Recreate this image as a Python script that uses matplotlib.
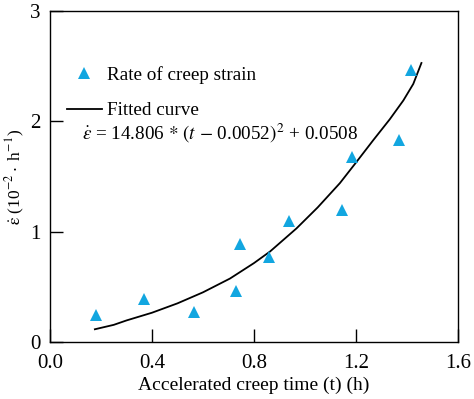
import numpy as np
import matplotlib
matplotlib.use("Agg")
import matplotlib.pyplot as plt
from matplotlib.lines import Line2D

# measured creep strain rate (triangles)
t_obs = [0.182, 0.369, 0.566, 0.729, 0.745, 0.860, 0.936, 1.144, 1.183, 1.369, 1.418]
rate_obs = [0.245, 0.39, 0.27, 0.46, 0.89, 0.77, 1.10, 1.20, 1.68, 1.83, 2.47]

# fitted curve, points
t_fit = [0.176, 0.25, 0.30, 0.40, 0.50, 0.60, 0.706, 0.80, 0.863, 0.967,
         1.05, 1.137, 1.203, 1.268, 1.333, 1.386, 1.425, 1.457]
rate_fit = [0.115, 0.155, 0.195, 0.265, 0.35, 0.45, 0.575, 0.715, 0.82, 1.03,
            1.22, 1.44, 1.635, 1.83, 2.02, 2.19, 2.34, 2.53]

x_ticks = [0.0, 0.4, 0.8, 1.2, 1.6]
y_ticks = [0, 1, 2, 3]

plt.rcParams['font.family'] = ['Liberation Serif', 'DejaVu Serif']
plt.rcParams['mathtext.fontset'] = 'stix'

fig = plt.figure(figsize=(4.74, 3.99), dpi=100)
ax = fig.add_axes([0.1055, 0.143, 0.8605, 0.829])

ax.plot(t_fit, rate_fit, color='black', lw=1.3)
ax.plot(t_obs, rate_obs, ls='none', marker='^', ms=8.5, color='#12A6E0',
        markeredgewidth=0)

ax.set_xlim(0, 1.6)
ax.set_ylim(0, 3)
ax.set_xticks(x_ticks)
ax.set_xticklabels(['%.1f' % v for v in x_ticks])
ax.set_yticks(y_ticks)
ax.tick_params(direction='in', length=9.5, width=1.0, labelsize=15)
ax.tick_params(axis='x', pad=9)
ax.tick_params(axis='y', pad=7)
for s in ax.spines.values():
    s.set_linewidth(1.0)

ax.set_xlabel('Accelerated creep time (t) (h)', fontsize=14, labelpad=2)
ax.set_ylabel(r'$\dot{\mathrm{\varepsilon}}$ (10$^{-2}\cdot$ h$^{-1}$)', fontsize=12.5, labelpad=2)

handles = [
    Line2D([], [], ls='none', marker='^', ms=8.5, color='#12A6E0', markeredgewidth=0),
    Line2D([], [], color='black', lw=1.3),
]
leg = ax.legend(handles, ['Rate of creep strain', 'Fitted curve'],
                loc='upper left', bbox_to_anchor=(0.042, 0.835), frameon=False,
                fontsize=13.8, handlelength=1.8, handletextpad=0.3,
                labelspacing=0.95, borderpad=0, borderaxespad=0)

ax.text(0.078, 0.632, r'$\dot{\varepsilon}$ = 14.806 $*$ $(t$ $-$ 0.0052$)^2$ + 0.0508',
        transform=ax.transAxes, fontsize=13.8, va='center', ha='left')

fig.savefig('out.png', dpi=100)
